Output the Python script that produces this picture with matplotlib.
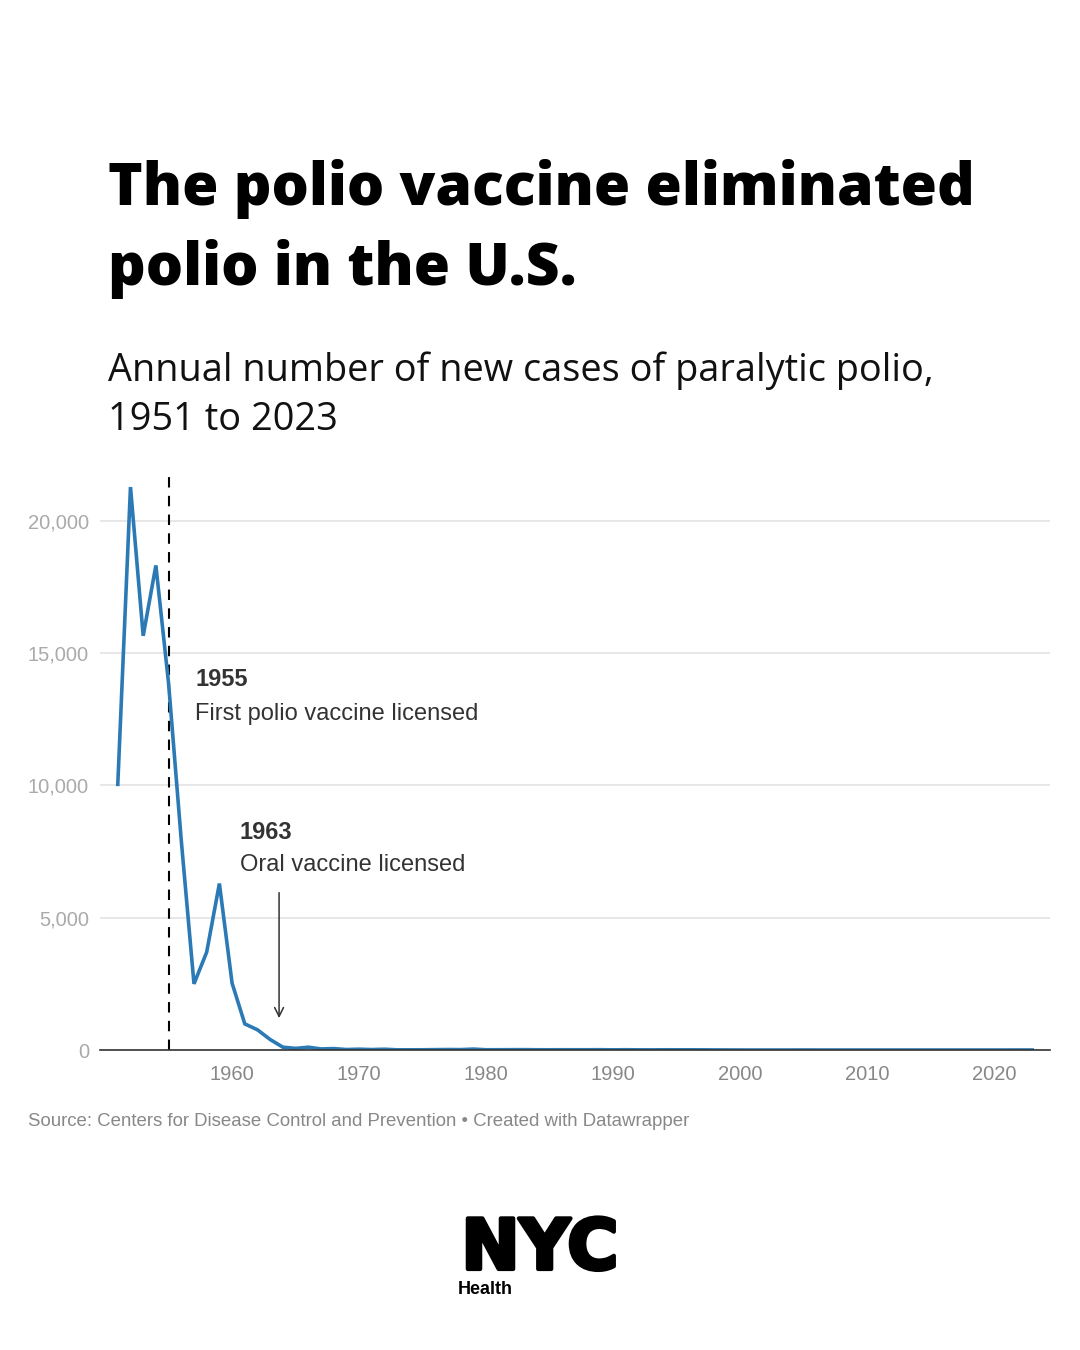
import matplotlib.pyplot as plt
import matplotlib.patheffects as pe
from matplotlib.ticker import FuncFormatter

# Annual paralytic polio cases (CDC)
years = list(range(1951, 2024))
cases = [10037, 21269, 15648, 18308, 13850, 7911, 2499, 3697, 6289, 2525,
         988, 762, 396, 106, 61, 106, 40, 53, 18, 31,
         17, 29, 7, 7, 8, 14, 18, 15, 34, 9,
         10, 12, 13, 9, 8, 10, 9, 9, 11, 6,
         10, 6, 5, 8, 7, 7, 6, 3, 2, 0,
         0, 0, 0, 0, 1, 0, 0, 0, 0, 0,
         0, 0, 0, 0, 0, 0, 0, 0, 0, 0,
         0, 1, 0]
y_ticks = [0, 5000, 10000, 15000, 20000]
x_ticks = [1960, 1970, 1980, 1990, 2000, 2010, 2020]

W, H = 1080, 1350
fig = plt.figure(figsize=(W / 100, H / 100), dpi=100)
fig.patch.set_facecolor('white')

def fx(px):
    return px / W

def fy(py):
    return 1 - py / H

# titles
fig.text(fx(108), fy(205), "The polio vaccine eliminated", fontsize=42.3, fontweight='heavy',
         family='Open Sans', color='black', va='baseline')
fig.text(fx(108), fy(285), "polio in the U.S.", fontsize=42.3, fontweight='heavy',
         family='Open Sans', color='black', va='baseline')
fig.text(fx(108), fy(381), "Annual number of new cases of paralytic polio,", fontsize=27.3,
         family='Open Sans', color='#111111', va='baseline')
fig.text(fx(108), fy(430), "1951 to 2023", fontsize=27.3,
         family='Open Sans', color='#111111', va='baseline')

# chart
ax = fig.add_axes([fx(100), fy(1050), fx(1050) - fx(100), fy(473) - fy(1050)])
ax.plot(years, cases, color='#2b7ab6', lw=2.6, solid_joinstyle='miter', zorder=3)
ax.set_xlim(1949.6, 2024.4)
ax.set_ylim(0, 21800)
ax.set_yticks(y_ticks)
ax.yaxis.set_major_formatter(FuncFormatter(lambda v, p: f"{int(v):,}"))
ax.set_xticks(x_ticks)
ax.grid(axis='y', color='#e3e3e3', lw=1.2)
ax.grid(axis='x', visible=False)
for s in ['top', 'right', 'left']:
    ax.spines[s].set_visible(False)
ax.spines['bottom'].set_color('#333333')
ax.spines['bottom'].set_linewidth(1.2)
ax.spines['bottom'].set_zorder(4)
ax.tick_params(axis='y', length=0, pad=8, labelsize=14.5, labelcolor='#aaaaaa')
ax.tick_params(axis='x', length=0, pad=11, labelsize=14.5, labelcolor='#888888')
for lab in ax.get_xticklabels() + ax.get_yticklabels():
    lab.set_family('Liberation Sans')

ax.axvline(1955, color='black', lw=1.5, ls=(0, (5, 4)), zorder=2)

ax.text(1957.1, 14000, "1955", fontsize=17, fontweight='bold', family='Liberation Sans',
        color='#333333', va='center')
ax.text(1957.1, 12700, "First polio vaccine licensed", fontsize=17, family='Liberation Sans',
        color='#333333', va='center')
ax.text(1960.6, 8200, "1963", fontsize=17, fontweight='bold', family='Liberation Sans',
        color='#333333', va='center')
ax.text(1960.6, 7000, "Oral vaccine licensed", fontsize=17, family='Liberation Sans',
        color='#333333', va='center')
ax.annotate("", xy=(1963.7, 1100), xytext=(1963.7, 6050),
            arrowprops=dict(arrowstyle='->', color='#333333', lw=1.1, mutation_scale=16))

# source
fig.text(fx(28), fy(1122), "Source: Centers for Disease Control and Prevention \u2022 Created with Datawrapper",
         fontsize=13.4, family='Liberation Sans', color='#888888', va='center')

# logo
fig.text(fx(540), fy(1269), "NYC", fontsize=50, fontweight='heavy', family='DejaVu Sans',
         color='black', ha='center', va='baseline',
         path_effects=[pe.withStroke(linewidth=3, foreground='black')])
fig.text(fx(458), fy(1294), "Health", fontsize=13, fontweight='bold', family='Liberation Sans',
         color='black', va='baseline')

fig.savefig('out.png', dpi=100, facecolor='white')
